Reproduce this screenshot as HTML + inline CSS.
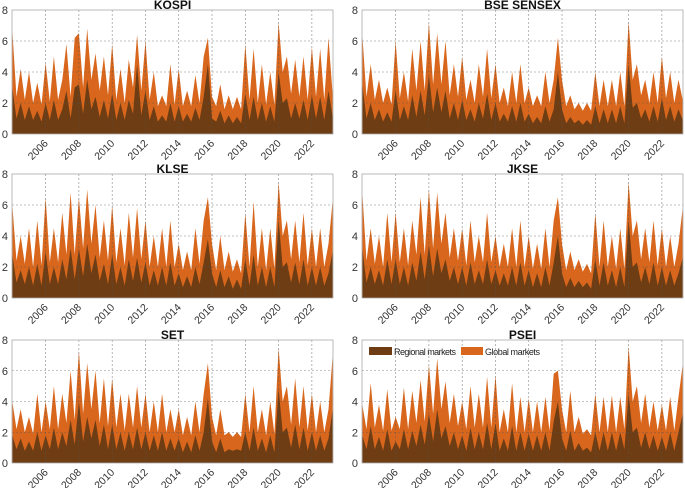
<!DOCTYPE html>
<html><head><meta charset="utf-8">
<style>
body{margin:0;background:#fff;width:685px;height:488px;overflow:hidden;font-family:"Liberation Sans",Arial,sans-serif;}
svg{display:block}
</style></head>
<body>
<svg id="chart" width="685" height="488" viewBox="0 0 685 488" xmlns="http://www.w3.org/2000/svg"></svg>
<script>
const yearTicks = [2006,2008,2010,2012,2014,2016,2018,2020,2022];
const yTicks = [0,2,4,6,8];
const startYear = 2004.0, stepYear = 0.25;

const kospiTotal = [6.7,2.4,4.2,2.2, 4.0,2.0,3.3,1.9, 4.6,2.1,5.0,2.2, 3.5,5.8,2.4,6.2, 6.5,3.0,6.8,3.5, 5.2,2.8,5.0,2.5, 5.8,2.2,4.2,2.0, 4.8,3.0,6.4,2.8, 6.0,2.2,4.0,1.8, 2.5,1.8,4.5,1.9, 4.2,1.8,2.8,1.8, 3.8,2.0,5.0,6.2, 2.4,1.8,3.2,1.6, 2.5,1.6,2.4,1.6, 5.8,2.2,5.5,2.0, 4.5,1.9,4.0,1.9, 7.2,4.0,5.0,2.6, 4.8,2.4,5.0,2.2, 5.6,2.4,5.5,2.2, 6.2,2.5];
const kospiRegional = [3.0,1.0,2.0,0.9, 1.8,0.9,1.5,0.8, 2.0,0.9,2.2,0.9, 1.6,2.8,1.0,3.0, 3.2,1.3,3.5,1.6, 2.4,1.1,2.2,1.0, 2.6,0.9,2.0,0.9, 2.2,1.3,4.5,1.2, 2.8,0.9,1.8,0.8, 1.2,0.8,2.0,0.8, 1.8,0.8,1.3,0.8, 1.7,0.9,2.4,4.5, 1.0,0.8,1.5,0.7, 1.2,0.7,1.1,0.7, 2.6,0.9,2.4,0.9, 2.0,0.8,1.8,0.8, 4.0,2.0,2.3,1.0, 2.0,1.0,2.2,0.9, 2.5,1.0,2.4,0.9, 2.8,1.1];

const bseTotal = [6.4,2.4,4.5,2.2, 3.5,2.0,3.0,1.9, 6.0,2.3,4.0,2.1, 5.5,2.8,6.0,2.8, 7.2,3.2,6.5,3.2, 6.0,2.5,4.5,2.4, 5.0,2.2,3.5,2.0, 4.5,2.4,5.5,2.3, 4.5,2.0,3.0,1.8, 4.0,2.0,4.5,2.0, 3.0,1.8,2.5,1.8, 4.0,2.0,3.5,6.2, 3.5,1.8,2.5,1.6, 2.0,1.5,2.0,1.5, 4.0,1.8,3.5,1.8, 3.5,1.8,4.0,1.8, 7.3,3.5,4.5,2.5, 3.5,2.0,4.0,2.0, 5.0,2.3,4.0,2.0, 3.5,2.2];
const bseRegional = [3.2,1.0,2.0,0.9, 1.6,0.8,1.4,0.8, 2.8,0.9,1.8,0.9, 2.5,1.1,2.8,1.2, 3.8,1.4,3.0,1.4, 2.8,1.0,2.0,0.9, 2.2,0.9,1.6,0.8, 2.0,1.0,2.6,0.9, 2.0,0.8,1.3,0.8, 1.8,0.8,2.0,0.8, 1.3,0.7,1.1,0.7, 1.8,0.8,1.6,4.0, 1.6,0.7,1.1,0.7, 0.9,0.6,0.9,0.6, 1.8,0.7,1.6,0.7, 1.6,0.7,1.8,0.7, 4.5,1.7,2.0,1.0, 1.6,0.8,1.8,0.8, 2.3,0.9,1.8,0.8, 1.6,0.9];

const klseTotal = [6.0,2.4,4.0,2.2, 4.5,2.0,5.0,2.1, 6.5,2.3,4.5,2.3, 5.5,2.8,6.8,2.8, 6.5,3.2,7.0,3.5, 6.0,2.6,5.0,2.4, 6.0,2.3,4.5,2.1, 5.5,2.6,5.8,2.5, 5.0,2.0,4.0,2.0, 4.5,2.0,5.0,2.0, 3.5,1.8,3.0,1.8, 4.5,2.2,5.0,6.5, 3.5,1.8,4.0,1.8, 3.0,1.7,2.5,1.6, 5.5,2.0,6.2,2.0, 4.5,1.8,4.5,1.9, 7.5,4.0,5.0,2.5, 5.0,2.3,5.5,2.1, 4.5,2.0,4.5,2.0, 3.5,6.3];
const klseRegional = [2.8,1.0,1.8,0.9, 2.0,0.8,2.2,0.8, 3.0,0.9,2.0,0.9, 2.5,1.2,3.2,1.2, 3.2,1.4,3.5,1.6, 2.8,1.1,2.2,0.9, 2.8,0.9,2.0,0.8, 2.5,1.1,2.6,1.0, 2.3,0.8,1.8,0.8, 2.0,0.8,2.3,0.8, 1.6,0.7,1.4,0.7, 2.0,0.9,2.3,3.8, 1.6,0.7,1.8,0.7, 1.4,0.6,1.2,0.6, 2.5,0.8,2.8,0.8, 2.0,0.7,2.0,0.7, 5.0,2.0,2.3,1.0, 2.3,0.9,2.5,0.8, 2.0,0.8,2.0,0.8, 1.6,3.0];

const jkseTotal = [6.8,2.4,4.5,2.2, 4.0,2.0,5.5,2.3, 5.5,2.3,4.5,2.1, 5.0,2.8,6.5,2.8, 7.0,3.2,6.8,3.5, 5.5,2.6,4.5,2.4, 4.5,2.1,5.0,2.3, 4.0,2.3,5.5,2.3, 4.0,2.0,3.5,2.0, 4.5,2.0,5.0,2.0, 4.0,1.9,3.5,1.9, 4.5,2.0,5.0,6.5, 3.5,1.8,3.0,1.8, 2.5,1.7,2.2,1.6, 5.5,2.0,5.0,2.0, 4.0,1.9,4.5,1.9, 7.5,4.0,5.0,2.5, 4.5,2.3,5.0,2.1, 4.5,2.0,4.0,2.0, 3.5,5.8];
const jkseRegional = [3.2,1.0,2.0,0.9, 1.8,0.8,2.5,0.9, 2.5,0.9,2.0,0.8, 2.3,1.1,3.0,1.2, 3.4,1.4,3.2,1.6, 2.5,1.1,2.0,0.9, 2.0,0.8,2.3,0.9, 1.8,0.9,2.5,0.9, 1.8,0.8,1.6,0.8, 2.0,0.8,2.3,0.8, 1.8,0.7,1.6,0.7, 2.0,0.8,2.3,4.0, 1.6,0.7,1.3,0.7, 1.1,0.7,1.0,0.6, 2.5,0.8,2.3,0.8, 1.8,0.7,2.0,0.7, 5.0,2.0,2.3,1.0, 2.0,0.9,2.3,0.8, 2.0,0.8,1.8,0.8, 1.6,2.6];

const setTotal = [4.0,2.2,3.5,2.0, 3.0,1.9,4.5,2.0, 4.0,2.2,5.0,2.2, 4.5,2.6,6.0,2.8, 7.3,3.2,6.5,3.5, 6.0,2.6,5.5,2.4, 5.5,2.3,4.5,2.1, 4.5,2.3,5.0,2.3, 4.5,2.0,4.0,2.0, 4.5,2.0,3.5,2.0, 3.5,1.8,3.0,1.8, 4.0,2.0,4.5,6.5, 3.0,1.8,3.5,1.8, 2.0,1.7,2.0,1.7, 4.5,2.0,5.0,2.0, 3.5,1.8,4.0,1.9, 7.5,4.0,5.0,2.5, 5.5,2.3,5.0,2.1, 4.5,2.0,4.0,2.0, 3.5,7.0];
const setRegional = [1.8,0.9,1.6,0.8, 1.4,0.8,2.0,0.8, 1.8,0.9,2.3,0.9, 2.0,1.1,2.8,1.2, 4.0,1.4,3.0,1.6, 2.8,1.1,2.5,0.9, 2.5,0.9,2.0,0.8, 2.0,0.9,2.3,0.9, 2.0,0.8,1.8,0.8, 2.0,0.8,1.6,0.8, 1.6,0.7,1.4,0.7, 1.8,0.8,2.0,4.2, 1.4,0.7,1.6,0.7, 0.9,0.8,0.9,0.8, 2.0,0.8,2.3,0.8, 1.6,0.7,1.8,0.7, 4.8,2.0,2.3,1.0, 2.5,0.9,2.3,0.8, 2.0,0.8,1.8,0.8, 1.6,3.5];

const pseiTotal = [3.8,2.2,5.2,2.3, 3.8,2.1,4.8,2.1, 3.0,2.2,4.9,2.2, 4.7,2.6,5.4,2.7, 6.4,3.2,6.8,3.5, 5.3,2.6,4.5,2.4, 4.0,2.2,5.0,2.3, 4.5,2.3,5.6,2.3, 5.7,2.0,3.5,2.0, 5.2,2.0,4.3,2.0, 4.2,2.0,4.0,2.0, 4.3,2.1,5.8,6.0, 3.5,2.0,4.7,2.0, 3.0,1.9,2.2,1.8, 4.5,2.0,4.3,2.0, 4.4,2.0,4.3,2.2, 7.6,4.0,5.0,2.6, 4.5,2.3,4.0,2.1, 3.8,2.1,4.3,2.1, 4.3,6.4];
const pseiRegional = [1.8,0.9,2.4,0.9, 1.7,0.8,2.2,0.8, 1.4,0.9,2.2,0.9, 2.1,1.1,2.5,1.2, 3.2,1.4,3.5,1.6, 2.4,1.1,2.0,0.9, 1.8,0.8,2.3,0.9, 2.0,0.9,2.6,0.9, 2.6,0.8,1.6,0.8, 2.4,0.8,2.0,0.8, 1.9,0.8,1.8,0.8, 2.0,0.8,2.7,4.0, 1.6,0.8,2.1,0.8, 1.3,0.8,1.0,0.7, 2.0,0.8,2.0,0.8, 2.0,0.8,2.0,0.9, 4.5,2.0,2.3,1.0, 2.0,0.9,1.8,0.8, 1.7,0.8,2.0,0.8, 2.0,3.2];

const panelTitles = ["KOSPI","BSE SENSEX","KLSE","JKSE","SET","PSEI"];
const panelTotals = [kospiTotal,bseTotal,klseTotal,jkseTotal,setTotal,pseiTotal];
const panelRegionals = [kospiRegional,bseRegional,klseRegional,jkseRegional,setRegional,pseiRegional];

const NS = "http://www.w3.org/2000/svg";
const svg = document.getElementById("chart");
function mk(tag, attrs, parent){
  const e = document.createElementNS(NS, tag);
  for (const k in attrs) e.setAttribute(k, attrs[k]);
  (parent||svg).appendChild(e);
  return e;
}
const lefts = [12, 362], rights = [333, 683];
const tops = [10, 174, 340], bottoms = [134, 298, 463];
const xMin = 2003.98, xMax = 2023.27, yMax = 8;

panelTitles.forEach((title, i) => {
  const col = i % 2, row = Math.floor(i / 2);
  const L = lefts[col], R = rights[col], T = tops[row], B = bottoms[row];
  const sx = y => L + (y - xMin) / (xMax - xMin) * (R - L);
  const sy = v => B - v / yMax * (B - T);
  const slug = title.toLowerCase().replace(/\s+/g,'-');
  const g = mk("g", {});
  
  

  const tot = panelTotals[i], reg = panelRegionals[i];
  const xs = tot.map((_, k) => startYear + k * stepYear);
  let dT = `M${sx(xs[0])},${B}`, dR = `M${sx(xs[0])},${B}`;
  xs.forEach((x, k) => { dT += `L${sx(x).toFixed(1)},${sy(tot[k]).toFixed(1)}`; dR += `L${sx(x).toFixed(1)},${sy(reg[k]).toFixed(1)}`; });
  dT += `L${sx(xs[xs.length-1])},${B}Z`; dR += `L${sx(xs[xs.length-1])},${B}Z`;
  const clip = mk("clipPath", {id: "clip" + i}, g);
  mk("rect", {x: L, y: T, width: R - L, height: B - T}, clip);
  const a1 = mk("path", {d: dT, fill: "#d8671d", "clip-path": `url(#clip${i})`}, g);
  
  
  const a2 = mk("path", {d: dR, fill: "#6e3d14", "clip-path": `url(#clip${i})`}, g);
  
  

  yTicks.forEach(v => {
    if (v > 0 && v < 8) mk("line", {x1: L, x2: R, y1: sy(v), y2: sy(v), stroke: "#555", "stroke-width": 0.6, "stroke-dasharray": "2,2", opacity: 0.7}, g);
    const t = mk("text", {x: L - 4, y: sy(v) + 4, "text-anchor": "end", "font-size": 11, fill: "#333"}, g);
    t.textContent = v;
    
    
  });
  yearTicks.forEach(yr => {
    const x = sx(yr);
    mk("line", {x1: x, x2: x, y1: T, y2: B, stroke: "#555", "stroke-width": 0.6, "stroke-dasharray": "2,2", opacity: 0.7}, g);
    const ax = x + 3, ay = B + 10;
    const t = mk("text", {x: ax, y: ay, "text-anchor": "end", "font-size": 10.5, fill: "#333", transform: `rotate(-45 ${ax} ${ay})`}, g);
    t.textContent = yr;
    
    
  });
  mk("rect", {x: L, y: T, width: R - L, height: B - T, fill: "none", stroke: "#aaa", "stroke-width": 0.8}, g);
  const tt = mk("text", {x: (L + R) / 2, y: T - 1, "text-anchor": "middle", "font-size": 12, "font-weight": "bold", fill: "#111"}, g);
  tt.textContent = title;
  
  
});

// legend in PSEI panel
const lg = mk("g", {});


mk("rect", {x: 369, y: 347, width: 23, height: 8, fill: "#6e3d14"}, lg);
const l1 = mk("text", {x: 394, y: 355, "font-size": 9, fill: "#222", textLength: 62}, lg);
l1.textContent = "Regional markets";


mk("rect", {x: 461, y: 347, width: 22, height: 8, fill: "#d8671d"}, lg);
const l2 = mk("text", {x: 485, y: 355, "font-size": 9, fill: "#222", textLength: 55}, lg);
l2.textContent = "Global markets";


</script>
</body></html>
